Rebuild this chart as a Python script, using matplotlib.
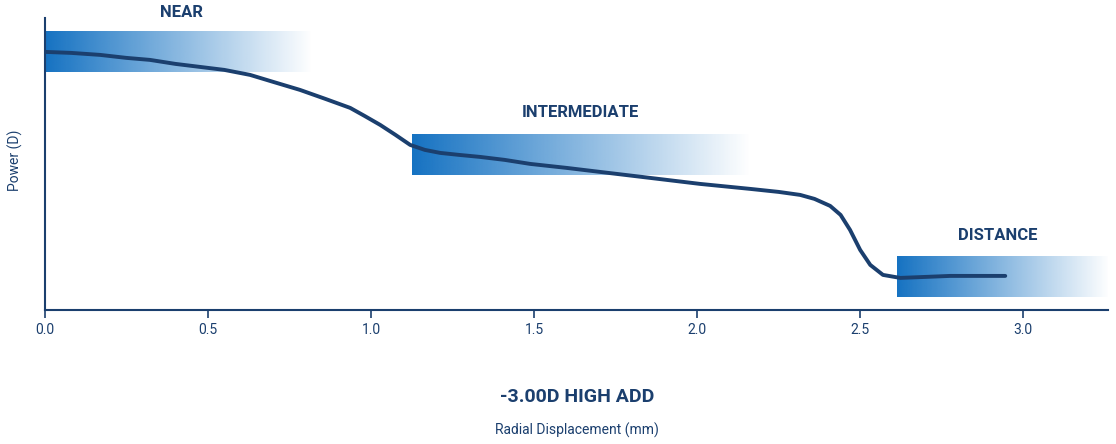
import matplotlib.pyplot as plt
import numpy as np
from matplotlib.colors import to_rgb

plt.rcParams['font.family'] = ['Roboto', 'DejaVu Sans']

navy = '#1b3f6e'
blue = '#1572c2'

# curve (x in mm, y in arbitrary power units)
curve_x = [0, 0.08, 0.169, 0.25, 0.322, 0.40, 0.475, 0.55, 0.629, 0.70, 0.782, 0.86, 0.936,
           0.98, 1.028, 1.075, 1.12, 1.165, 1.212, 1.27, 1.334, 1.41, 1.488, 1.60, 1.702,
           1.856, 2.009, 2.163, 2.25, 2.316, 2.36, 2.408, 2.44, 2.469, 2.50, 2.531,
           2.57, 2.623, 2.70, 2.776, 2.945]
curve_y = [258, 257, 255, 252, 250, 246, 243, 240, 235, 228, 220, 211, 202,
           194, 185, 175, 165, 160, 157, 155, 153, 150, 146, 142, 138,
           132, 126, 121, 118, 115, 111, 104, 95, 80, 60, 45,
           35, 32, 33, 34, 34]

bands = ['NEAR', 'INTERMEDIATE', 'DISTANCE']
band_x0 = [0.0, 1.126, 2.613]
band_x1 = [0.819, 2.163, 3.267]
band_y0 = [238, 135, 13]
band_y1 = [278, 175, 53]
label_x = [0.42, 1.641, 2.923]
label_y = [297, 197, 74]

xticks = [0.0, 0.5, 1.0, 1.5, 2.0, 2.5, 3.0]

fig = plt.figure(figsize=(11.16, 4.44), dpi=100)
ax = fig.add_axes([0.0403, 0.302, 0.9525, 0.6577])
ax.set_xlim(0, 3.26)
ax.set_ylim(0, 292)

rgb = np.array(to_rgb(blue))
for name, x0, x1, y0, y1, lx, ly in zip(bands, band_x0, band_x1, band_y0, band_y1, label_x, label_y):
    n = 256
    grad = np.zeros((1, n, 4))
    t = np.linspace(0, 1, n)
    grad[0, :, :3] = rgb
    grad[0, :, 3] = 1 - t
    ax.imshow(grad, extent=[x0, x1, y0, y1], aspect='auto', zorder=1, interpolation='bilinear')
    ax.text(lx, ly, name, ha='center', va='center', fontsize=12, fontweight='bold',
            color=navy, clip_on=False)

ax.plot(curve_x, curve_y, color=navy, lw=2.8, zorder=3, solid_capstyle='round')

for s in ['top', 'right']:
    ax.spines[s].set_visible(False)
for s in ['left', 'bottom']:
    ax.spines[s].set_color(navy)
    ax.spines[s].set_linewidth(1.5)
ax.set_yticks([])
ax.set_xticks(xticks)
ax.set_xticklabels([f'{v:.1f}' for v in xticks], color=navy, fontsize=10)
ax.tick_params(axis='x', colors=navy, length=6, width=1.2, labelcolor=navy)

fig.text(15 / 1116, 1 - 160 / 444, 'Power (D)', rotation=90, ha='center', va='center',
         color=navy, fontsize=10)
fig.text(577 / 1116, 1 - 397 / 444, '-3.00D HIGH ADD', ha='center', va='center',
         color=navy, fontsize=14, fontweight='bold')
fig.text(577 / 1116, 1 - 430 / 444, 'Radial Displacement (mm)', ha='center', va='center',
         color=navy, fontsize=10)

fig.savefig('out.png', dpi=100)
